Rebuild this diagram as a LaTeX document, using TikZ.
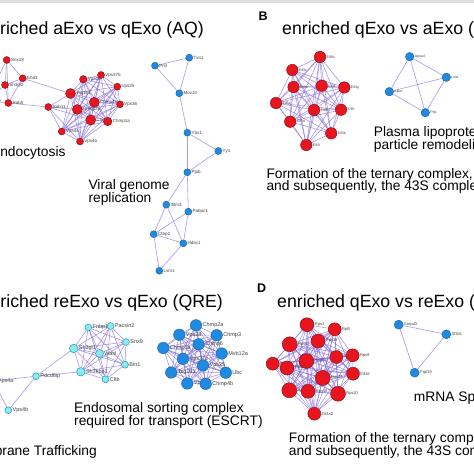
\documentclass[tikz,border=0pt]{standalone}
\usepackage{fontspec}
\setmainfont{Liberation Sans}
\usetikzlibrary{backgrounds}
\definecolor{hitred}{RGB}{232,20,30}
\definecolor{hitredrim}{RGB}{120,15,20}
\definecolor{hitblue}{RGB}{30,138,224}
\definecolor{hitbluerim}{RGB}{25,95,165}
\definecolor{hitcyan}{RGB}{140,232,242}
\definecolor{hitcyanrim}{RGB}{35,150,165}
\definecolor{linkc}{RGB}{135,110,225}
\definecolor{topband}{RGB}{222,222,222}
\tikzset{
  redpt/.style={circle,inner sep=0pt,minimum size=#1,fill=hitred,draw=hitredrim,line width=0.4pt},
  bluept/.style={circle,inner sep=0pt,minimum size=#1,fill=hitblue,draw=hitbluerim,line width=0.4pt},
  cyanpt/.style={circle,inner sep=0pt,minimum size=#1,fill=hitcyan,draw=hitcyanrim,line width=0.5pt},
  gname/.style={font=\fontsize{#1}{#1}\selectfont,text=black!75,inner sep=0.5pt},
  ppi/.style={draw=linkc,line width=0.6pt,opacity=0.7},
  ttl/.style={font=\fontsize{17.7}{20}\selectfont,inner sep=0pt},
  capt/.style={font=\fontsize{13.8}{16}\selectfont,inner sep=0pt},
  plab/.style={font=\fontsize{12.5}{14}\selectfont\bfseries,inner sep=0pt}
}
\begin{document}
\begin{tikzpicture}[x=1pt,y=-1pt]
  \useasboundingbox (0,0) rectangle (474,474);
  \fill[topband] (0,0) rectangle (474,3);

  \foreach \n/\x/\y/\s/\t in {
    a0/-14/102/7/Rab7, a1/6.7/60/7/Snx18, a2/22.7/78.3/7/Ehd1, a3/5/85/7/Sh3gl2,
    a4/8.3/103/7/Rab5, a5/48.3/107/7/Rab11, a6/70.5/93.5/10/Tsg101,
    a7/83.3/79.3/7.5/Vps28, a8/101/75/7/Vps37b, a9/117.3/86.7/7/Vps25,
    a10/94.3/102.3/10/Chmp4b, a11/120/104.3/7/Vps36, a12/77.3/109.5/10/Chmp2a,
    a13/90.7/120/10/Chmp6, a14/107.7/121.5/8.5/Chmp1a, a15/61.7/131.5/7/Vps4a,
    a16/80/141.5/7/Vps4b}
    \node[redpt=\s,label={[gname=4.5]0:\t}] (\n) at (\x,\y) {};
  \foreach \n/\x/\y/\t in {
    b1/155/65.7/Pml, b2/189.3/57.7/Txn1, b3/179.3/93.3/Mov10, b4/187.3/132.7/Ybx1,
    b5/218.3/151/Yy1, b6/187.3/172.3/Ppib, b7/166.3/204.7/Ifitm3,
    b8/188.3/211.7/Pabpc1, b9/153.7/234.2/Ctbp2, b10/183.3/243.3/Hdac1,
    b11/159.3/270.8/Lsm1}
    \node[bluept=7,label={[gname=4.5]0:\t}] (\n) at (\x,\y) {};

  \foreach \n/\x/\y/\t in {
    c1/320/57/Eif3b, c2/292.3/70/Eif3c, c3/293.5/87/Eif3e, c4/321.8/85.8/Eif3f,
    c5/344.3/87.5/Eif3g, c6/276/103/Eif3a, c7/314/110/Eif3h, c8/341/109.7/Eif3i,
    c9/290.2/121.7/Eif3d, c10/331.2/133.3/Eif3k, c11/306.3/145/Eif3l}
    \node[redpt=11.5,label={[gname=3.5]0:\t}] (\n) at (\x,\y) {};
  \foreach \n/\x/\y/\t in {
    d1/409.7/56.7/Apoa4, d2/446.3/77.3/Lcat, d3/389.3/91.7/Apoe, d4/425.3/112.7/Pltp}
    \node[bluept=8.5,label={[gname=3.5]0:\t}] (\n) at (\x,\y) {};

  \foreach \n/\x/\y/\s/\t in {
    e1/88.3/327.5/6.8/Fnbp1, e2/110.5/326/6.8/Pacsin2, e3/126/342/6.8/Snx9,
    e4/73.7/348.5/8.5/Sh3gl1, e5/99.5/353.5/8/Wasl, e6/125/364.7/7/Bin1,
    e7/80.8/371.8/8.5/Sh3kbp1, e8/105.5/379.3/7/Cltb, e9/36/376.2/6.8/Pdcd6ip,
    e10/-6.5/381/6.8/Vps4a, e11/8.3/410.2/6.8/Vps4b}
    \node[cyanpt=\s,label={[gname=5.5]0:\t}] (\n) at (\x,\y) {};
  \foreach \n/\x/\y/\t in {
    f1/196/325.3/Chmp2a, f2/179.3/334.8/Vps28, f3/216.7/335.2/Chmp3,
    f4/163.3/348/Chmp1a, f5/198.6/344.3/Chmp6, f6/221.7/353.5/Mvb12a,
    f7/183/358.8/Vps37c, f8/203/365.5/Vps25, f9/171.2/372.5/Tsg101,
    f10/225.8/372.7/Ubc, f11/187.3/383.5/Vps36, f12/205.7/383.8/Chmp4b}
    \node[bluept=11.5,label={[gname=5.5]0:\t}] (\n) at (\x,\y) {};

  \foreach \n/\x/\y/\s/\t in {
    g1/307/324.7/14/Rps3, g2/334.7/329.3/13/Rpl5, g3/289.7/344.3/15/Rps6,
    g4/318/341/14/Rps19, g5/272.7/363.7/13/Rps2, g6/306.3/361/15/Rps8,
    g7/336.3/357/13/Rps5, g8/352.7/355.3/13/Rps9, g9/287/368/14/Rps12,
    g10/322.7/378/15/Rps14, g11/353/373.7/13/Eif3d, g12/289.3/390.3/15/Rps16,
    g13/308/391.3/14/Rps18, g14/338/393.7/15/Rps20, g15/314.3/413.7/13/Eif4a2}
    \node[redpt=\s,label={[gname=4]0:\t}] (\n) at (\x,\y) {};
  \foreach \n/\x/\y/\t in {
    h1/398.7/324.7/Snrpd3, h2/446.3/334.3/Sf3b1, h3/414.7/372.7/Prpf19}
    \node[bluept=9,label={[gname=4]0:\t}] (\n) at (\x,\y) {};

  \begin{pgfonlayer}{background}
    \fill[white] (0,3) rectangle (474,474);
    \foreach \p/\fst/\lst in {a/6/16,c/1/11,d/1/4,e/1/8,f/1/12,g/1/15,h/1/3}{
      \pgfmathtruncatemacro\upto{\lst-1}
      \foreach \i in {\fst,...,\upto}{
        \pgfmathtruncatemacro\k{\i+1}
        \foreach \j in {\k,...,\lst}{\draw[ppi] (\p\i) -- (\p\j);}
      }
    }
    \foreach \u/\v in {a0/a1,a0/a3,a0/a4,a1/a2,a1/a3,a1/a4,a2/a3,a2/a4,a3/a4,
      a2/a6,a4/a5,a5/a6,a5/a12,a5/a13,a5/a15,a5/a16,
      b1/b2,b1/b3,b2/b3,b3/b4,b4/b5,b4/b6,b5/b6,b6/b7,b6/b8,b7/b9,b7/b10,
      b8/b9,b8/b10,b9/b10,b9/b11,b10/b11,
      e9/e4,e9/e7,e9/e10,e9/e11,e10/e11}
      \draw[ppi] (\u) -- (\v);
  \end{pgfonlayer}

  \node[plab,anchor=base west] (tagB) at (258.5,20.7) {B};
  \node[plab,anchor=base west] (tagD) at (257,292) {D};
  \node[ttl,anchor=base east] (ttlA) at (204,34.5) {enriched aExo vs qExo (AQ)};
  \node[ttl,anchor=base west] (ttlB) at (282,34.5) {enriched qExo vs aExo (AQ)};
  \node[ttl,anchor=base east] (ttlC) at (223,307) {enriched reExo vs qExo (QRE)};
  \node[ttl,anchor=base west] (ttlD) at (277,307.5) {enriched qExo vs reExo (QRE)};

  \node[capt,anchor=base east] (capEndo) at (65.7,156.5) {Endocytosis};
  \node[capt,anchor=base west] (capViral) at (88.3,189.5) {Viral genome};
  \node[capt,anchor=base west] (capViral2) at ([yshift=-13pt]capViral.base west) {replication};
  \node[capt,anchor=base west] (capLipo) at (373.7,136.5) {Plasma lipoprotein};
  \node[capt,anchor=base west] (capLipo2) at ([yshift=-12.7pt]capLipo.base west) {particle remodeling};
  \node[capt,anchor=base west] (capTernB) at (266.3,178) {Formation of the ternary complex,};
  \node[capt,anchor=base west] (capTernB2) at ([yshift=-12.7pt]capTernB.base west) {and subsequently, the 43S complex};
  \node[capt,anchor=base west] (capEscrt) at (74,412.5) {Endosomal sorting complex};
  \node[capt,anchor=base west] (capEscrt2) at ([yshift=-13pt]capEscrt.base west) {required for transport (ESCRT)};
  \node[capt,anchor=base east] (capMemb) at (97,455) {Membrane Trafficking};
  \node[capt,anchor=base west] (capSplice) at (413.7,401) {mRNA Splicing};
  \node[capt,anchor=base west] (capTernD) at (288.7,442.3) {Formation of the ternary complex,};
  \node[capt,anchor=base west] (capTernD2) at ([yshift=-12.7pt]capTernD.base west) {and subsequently, the 43S complex};
\end{tikzpicture}
\end{document}
